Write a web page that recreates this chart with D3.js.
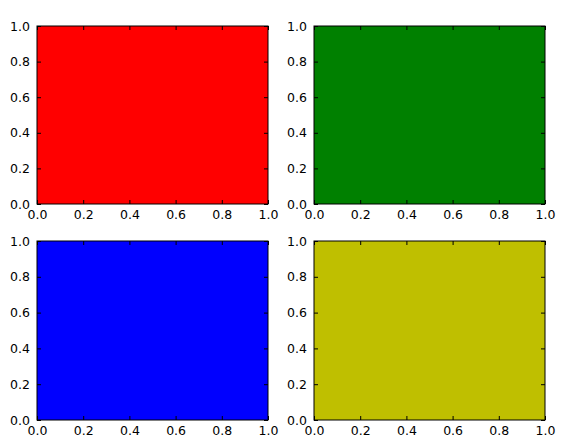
<!DOCTYPE html>
<html><head><meta charset="utf-8">
<script src="https://cdn.jsdelivr.net/npm/d3@7"></script>
<style>body{margin:0;background:#fff}svg{display:block}</style>
</head><body>
<script>
const panels = ["top-left","top-right","bottom-left","bottom-right"];
const panelColors = ["#ff0000","#008000","#0000ff","#bfbf00"];
const xDomain = [0, 1];
const yDomain = [0, 1];
const tickValues = [0, 0.2, 0.4, 0.6, 0.8, 1.0];

const W = 579, H = 448;
const cols = [[37, 268], [314, 545]];
const rows = [[26, 204], [241, 420]];

const svg = d3.select("body").append("svg").attr("width", W).attr("height", H);

panels.forEach((p, i) => {
  const c = cols[i % 2], r = rows[Math.floor(i / 2)];
  const x = d3.scaleLinear().domain(xDomain).range(c);
  const y = d3.scaleLinear().domain(yDomain).range([r[1], r[0]]);
  const g = svg.append("g");
  g.append("rect").attr("x", x(0)).attr("y", y(1))
    .attr("width", x(1) - x(0)).attr("height", y(0) - y(1))
    .attr("fill", panelColors[i]);
  const fmt = d3.format(".1f");
  const style = (ax) => {
    ax.select(".domain").remove();
    ax.selectAll("line").attr("stroke", "#000").attr("stroke-width", 1);
    ax.selectAll("text").attr("font-family", "DejaVu Sans").attr("font-size", 12.5).attr("fill", "#000");
  };
  g.append("g").attr("transform", `translate(0,${y(0)})`)
    .call(d3.axisBottom(x).tickValues(tickValues).tickFormat(fmt).tickSizeInner(-4).tickSizeOuter(0).tickPadding(6))
    .call(style);
  g.append("g").attr("transform", `translate(${x(0)},0)`)
    .call(d3.axisLeft(y).tickValues(tickValues).tickFormat(fmt).tickSizeInner(-4).tickSizeOuter(0).tickPadding(7))
    .call(style);
  g.append("g").attr("transform", `translate(0,${y(1)})`)
    .call(d3.axisTop(x).tickValues(tickValues).tickFormat("").tickSizeInner(-4).tickSizeOuter(0))
    .call(style);
  g.append("g").attr("transform", `translate(${x(1)},0)`)
    .call(d3.axisRight(y).tickValues(tickValues).tickFormat("").tickSizeInner(-4).tickSizeOuter(0))
    .call(style);
  g.append("rect").attr("x", x(0)).attr("y", y(1))
    .attr("width", x(1) - x(0)).attr("height", y(0) - y(1))
    .attr("fill", "none").attr("stroke", "#000").attr("stroke-width", 1);
});
</script>
</body></html>
